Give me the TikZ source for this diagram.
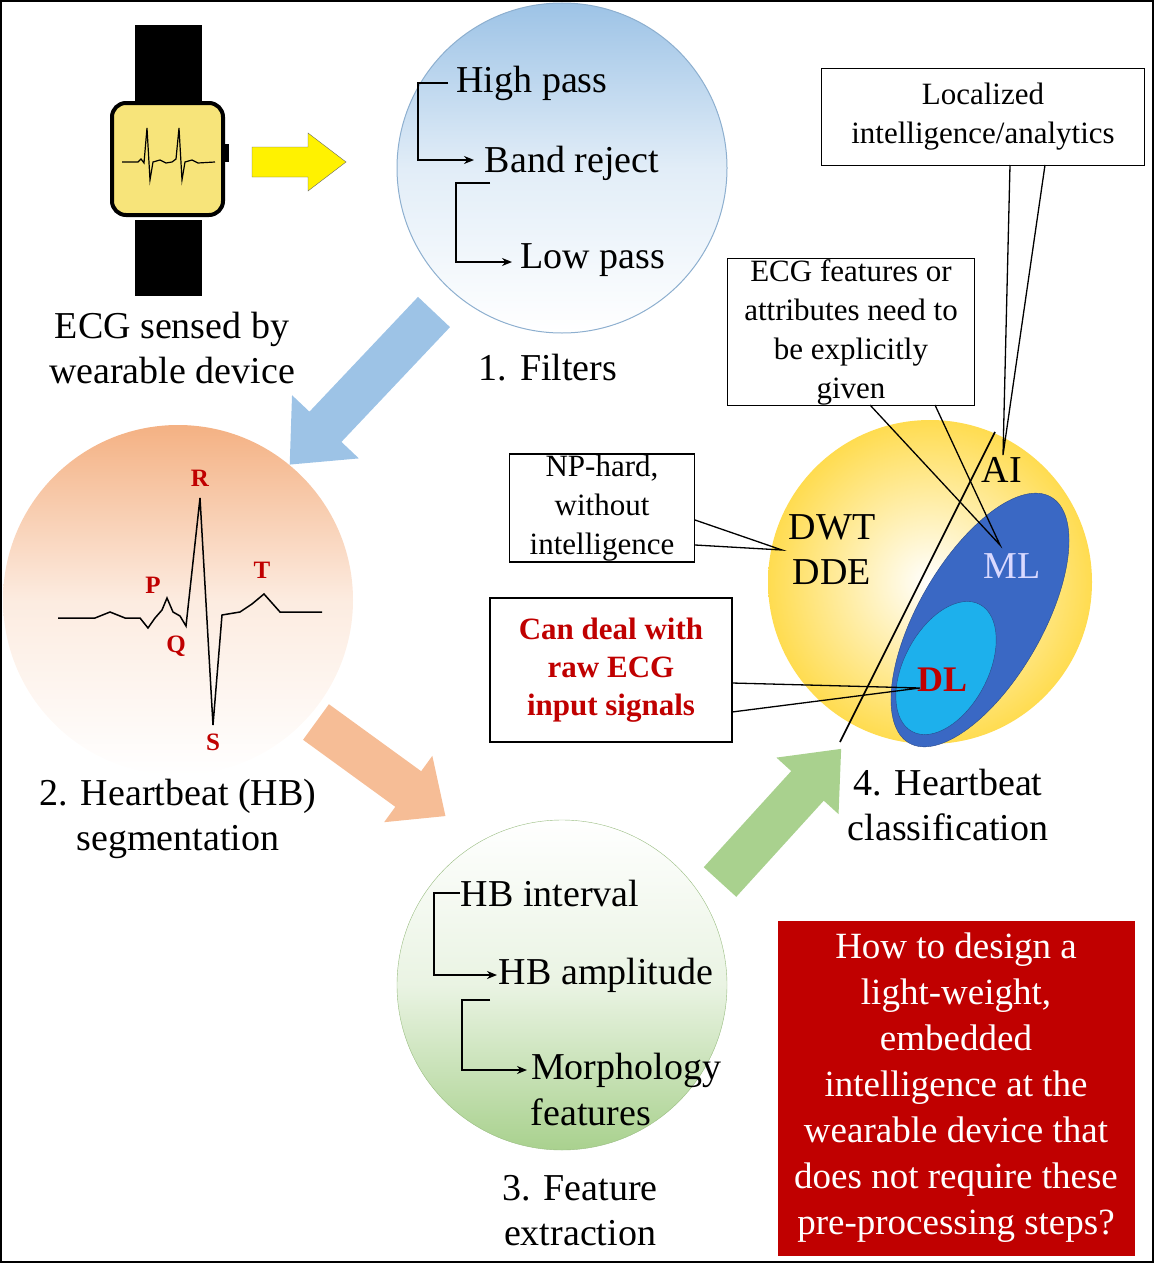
\documentclass[tikz,border=0pt]{standalone}
\usepackage{fontspec}
\setmainfont{Liberation Serif}
\usetikzlibrary{arrows.meta}
\newcommand\fatarr[8]{% name, start, angle, len, shaft, head, headlen, color
  \begin{scope}[shift={#2},rotate=#3]
  \fill[#8] (0,-#5/2) -- (#4-#7,-#5/2) -- (#4-#7,-#6/2) -- (#4,0) -- (#4-#7,#6/2) -- (#4-#7,#5/2) -- (0,#5/2) -- cycle;
  \coordinate (#1) at (#4,0);
  \end{scope}}
\begin{document}
\begin{tikzpicture}[x=1pt,y=-1pt,
  big/.style={font=\fontsize{38}{45}\selectfont},
  small/.style={font=\fontsize{31}{39}\selectfont},
  callout/.style={draw=black,line width=1.3pt,fill=white},
  brk/.style={line width=1.6pt,-{Stealth[length=10pt,width=8pt]}},
  ptr/.style={line width=1.3pt}]
\definecolor{wy}{HTML}{F7E47A}
\definecolor{cblue}{HTML}{9DC3E6}
\definecolor{csal}{HTML}{F4B183}
\definecolor{cgreen}{HTML}{A9D18E}
\definecolor{mlb}{HTML}{3A68C4}
\definecolor{dlb}{HTML}{1DB0EC}
\definecolor{dred}{HTML}{C00000}
\definecolor{cyel}{HTML}{FFDC50}
\useasboundingbox (0,0) rectangle (1154,1263);
\draw[line width=1.5pt] (1,1) rectangle (1153,1262);
% watch
\fill (135,25) rectangle (202,102);
\fill (135,220) rectangle (202,296);
\fill (222,144) rectangle (229,162);
\draw[line width=4pt,fill=wy,rounded corners=14pt] (112,103) rectangle (223,215);
\draw[line width=1.2pt] (122,162) -- (138,162) -- (141,159) -- (144,163) -- (147,128) -- (150,180) -- (153,162) -- (160,160) -- (166,163) -- (172,162) -- (176,159) -- (179,128) -- (182,180) -- (185,162) -- (192,160) -- (198,163) -- (215,162);
\node[big,align=center] (t0) at (172,348) {ECG sensed by\\wearable device};
\fatarr{a0}{(252,162)}{0}{94}{30}{58}{38}{yellow,draw=black!60}
% circle 1
\shade[top color=cblue,bottom color=white,middle color=cblue!30] (562,168) circle (165);
\draw[cblue!90!black,line width=1pt] (562,168) circle (165) node (c1) {};
\node[big] (hp) at (532,83) {High pass};
\node[big] (br) at (572,163) {Band reject};
\node[big] (lp) at (593,260) {Low pass};
\draw[brk] (448,83) -- (418,83) -- (418,160) -- (474,160);
\draw[brk] (490,183) -- (456,183) -- (456,262) -- (512,262);
\node[big] (t1) at (548,368) {1. Filters};
\fatarr{a1}{(434,312)}{226.6}{210}{44}{92}{52}{cblue}
% circle 2
\shade[top color=csal,bottom color=white,middle color=csal!25] (178,600) circle (175);
\node (c2) at (178,600) {};
\draw[line width=1.5pt] (58,618) -- (95,618) -- (110,612) -- (125,618) -- (140,618) -- (148,628) -- (155,618) -- (162,610) -- (167,598) -- (173,612) -- (180,616) -- (186,626) -- (200,498) -- (213,725) -- (222,615) -- (240,612) -- (252,604) -- (264,594) -- (280,612) -- (322,612);
\begin{scope}[font=\fontsize{25}{26}\bfseries\selectfont,text=dred]
\node (lR) at (200,478) {R};
\node (lP) at (153,585) {P};
\node (lQ) at (176,646) {Q};
\node (lS) at (213,742) {S};
\node (lT) at (262,570) {T};
\end{scope}
\node[big,align=center] (t2) at (178,819) {2. Heartbeat (HB)\\segmentation};
\fatarr{a2}{(316,722)}{-36}{160}{44}{82}{46}{csal!85}
% circle 3
\shade[top color=white,bottom color=cgreen,middle color=cgreen!25] (562,985) circle (165);
\draw[cgreen!90!black] (562,985) circle (165);
\node (c3) at (562,985) {};
\node[big] (f1) at (550,893) {HB interval};
\node[big] (f2) at (606,975) {HB amplitude};
\node[big] (f3) at (626,1070) {Morphology};
\node[big] (f4) at (591,1112) {features};
\draw[brk] (460,893) -- (434,893) -- (434,975) -- (497,975);
\draw[brk] (490,1000) -- (462,1000) -- (462,1070) -- (527,1070);
\node[big,align=center] (t3) at (580,1211) {3. Feature\\extraction};
\fatarr{a3}{(720,882)}{47.7}{180}{44}{84}{50}{cgreen}
% circle 4
\shade[inner color=white,outer color=cyel] (930,582) circle (162);
\node (c4) at (930,582) {};
\draw[fill=mlb,draw=mlb!70!black] (980,620) ellipse [x radius=142pt,y radius=62pt,rotate=60];
\draw[fill=dlb,draw=mlb!70!black] (946,668) ellipse [x radius=72pt,y radius=42pt,rotate=62];
\coordinate (lt) at (840,742);
\coordinate (lh) at (995,432);
\draw[line width=1.6pt] (lt) -- (lh);
\node[big] (ai) at (1002,470) {AI};
\node[big,text=white!85!blue] (ml) at (1012,566) {ML};
\node[text=dred,font=\fontsize{36}{40}\bfseries\selectfont] (dl) at (942,680) {DL};
\node[big,align=center] (dd) at (832,550) {DWT\\DDE};
\node[big,align=center] (t4) at (948,805) {4. Heartbeat\\classification};
% callouts
\node[callout,small,align=center,minimum width=323pt,minimum height=97pt] (b1) at (983,117) {Localized\\intelligence/analytics};
\draw[ptr] (1010,165) -- (1003,455) -- (1045,165);
\node[callout,small,align=center,minimum width=247pt,minimum height=145pt,inner sep=1pt] (b2) at (851,332) {ECG features or\\attributes need to\\be explicitly\\given};
\draw[ptr] (870,405) -- (1000,545) -- (935,405);
\node[callout,small,align=center,minimum width=185pt,minimum height=108pt,inner sep=1pt] (b3) at (602,508) {NP-hard,\\without\\intelligence};
\draw[ptr] (695,520) -- (782,550) -- (695,545);
\node[callout,align=center,minimum width=242pt,minimum height=144pt,text=dred,font=\fontsize{31}{38}\bfseries\selectfont] (b4) at (611,670) {Can deal with\\raw ECG\\input signals};
\draw[ptr] (732,683) -- (920,688) -- (732,712);
\node[fill=dred,text=white,align=center,minimum width=357pt,minimum height=335pt,inner sep=1pt,font=\fontsize{37}{46}\selectfont] (q) at (956,1088) {How to design a\\light-weight,\\embedded\\intelligence at the\\wearable device that\\does not require these\\pre-processing steps?};
\end{tikzpicture}
\end{document}
